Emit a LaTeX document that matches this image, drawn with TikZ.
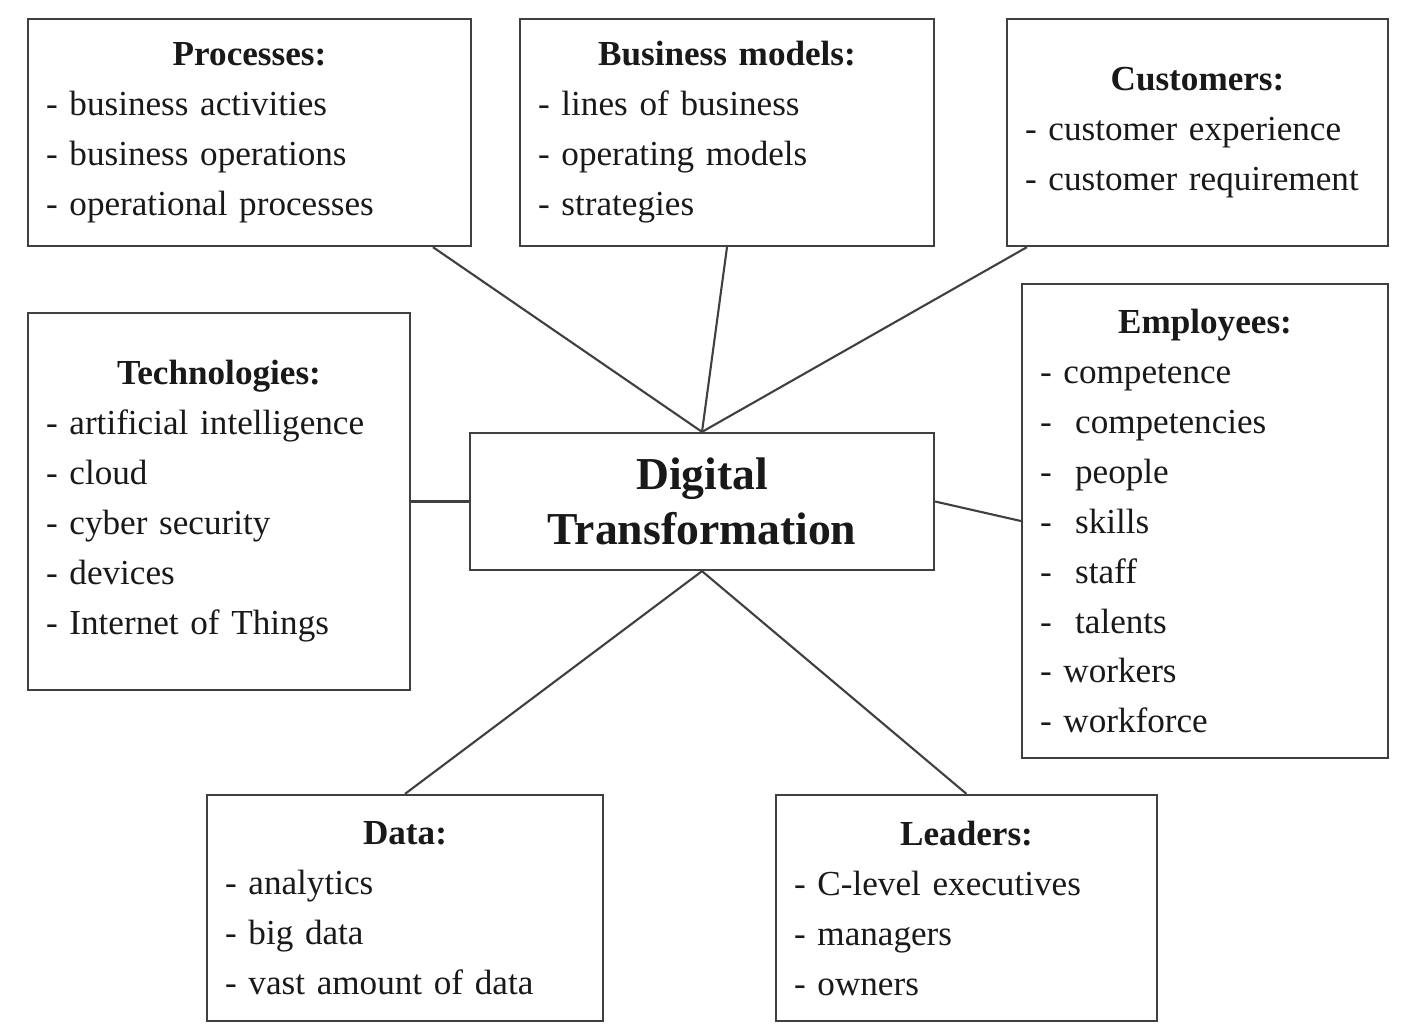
\documentclass[tikz,border=0pt]{standalone}
\usepackage{fontspec}
\setmainfont{Liberation Serif}
\usetikzlibrary{calc}
\newcommand\boxtitle[1]{\hspace*{\fill}\textbf{#1}\hspace*{\fill}\null\\}
\begin{document}
\begin{tikzpicture}[x=0.02cm,y=-0.02cm,
    infobox/.style={draw=black!75, line width=1.3pt, align=left, inner xsep=0.36cm, inner ysep=0pt,
        text=black!90, font=\fontsize{20}{28.45}\selectfont},
    link/.style={draw=black!75, line width=1.2pt}]
        \useasboundingbox (0,0) rectangle (1405,1035);
        \node[infobox, text width=8.14cm, minimum height=4.54cm] (proc) at (249.5,132.5)
            {\boxtitle{Processes:}- business activities\\- business operations\\- operational processes};
        \node[infobox, text width=7.56cm, minimum height=4.54cm] (biz) at (727,132.5)
            {\boxtitle{Business models:}- lines of business\\- operating models\\- strategies};
        \node[infobox, text width=6.9cm, minimum height=4.54cm] (cust) at (1197.5,132.5)
            {\boxtitle{Customers:}- customer experience\\- customer requirement};
        \node[infobox, text width=6.92cm, minimum height=7.54cm] (tech) at (219,501.5)
            {\boxtitle{Technologies:}- artificial intelligence\\- cloud\\- cyber security\\- devices\\- Internet of Things};
        \node[infobox, text width=6.6cm, minimum height=9.48cm] (emp) at (1205,521)
            {\boxtitle{Employees:}- competence\\- \ competencies\\- \ people\\- \ skills\\- \ staff\\- \ talents\\- workers\\- workforce};
        \node[infobox, text width=7.2cm, minimum height=4.52cm] (data) at (405,908)
            {\boxtitle{Data:}- analytics\\- big data\\- vast amount of data};
        \node[infobox, text width=6.9cm, minimum height=4.52cm] (lead) at (966.5,908)
            {\boxtitle{Leaders:}- C-level executives\\- managers\\- owners};
        \node[infobox, align=center, minimum width=9.28cm, minimum height=2.74cm,
            font=\fontsize{26}{31}\selectfont\bfseries] (dt) at (702,501.5)
            {Digital\\Transformation};
        % connectors
        \draw[link] ($(proc.south west)!0.912!(proc.south east)$) -- (dt.north);
        \draw[link] (biz.south) -- (dt.north);
        \draw[link] ($(cust.south west)!0.055!(cust.south east)$) -- (dt.north);
        \draw[link] (tech.east) -- (dt.west);
        \draw[link] (dt.east) -- (emp.west);
        \draw[link] (dt.south) -- (data.north);
        \draw[link] (dt.south) -- (lead.north);
    \end{tikzpicture}
\end{document}
